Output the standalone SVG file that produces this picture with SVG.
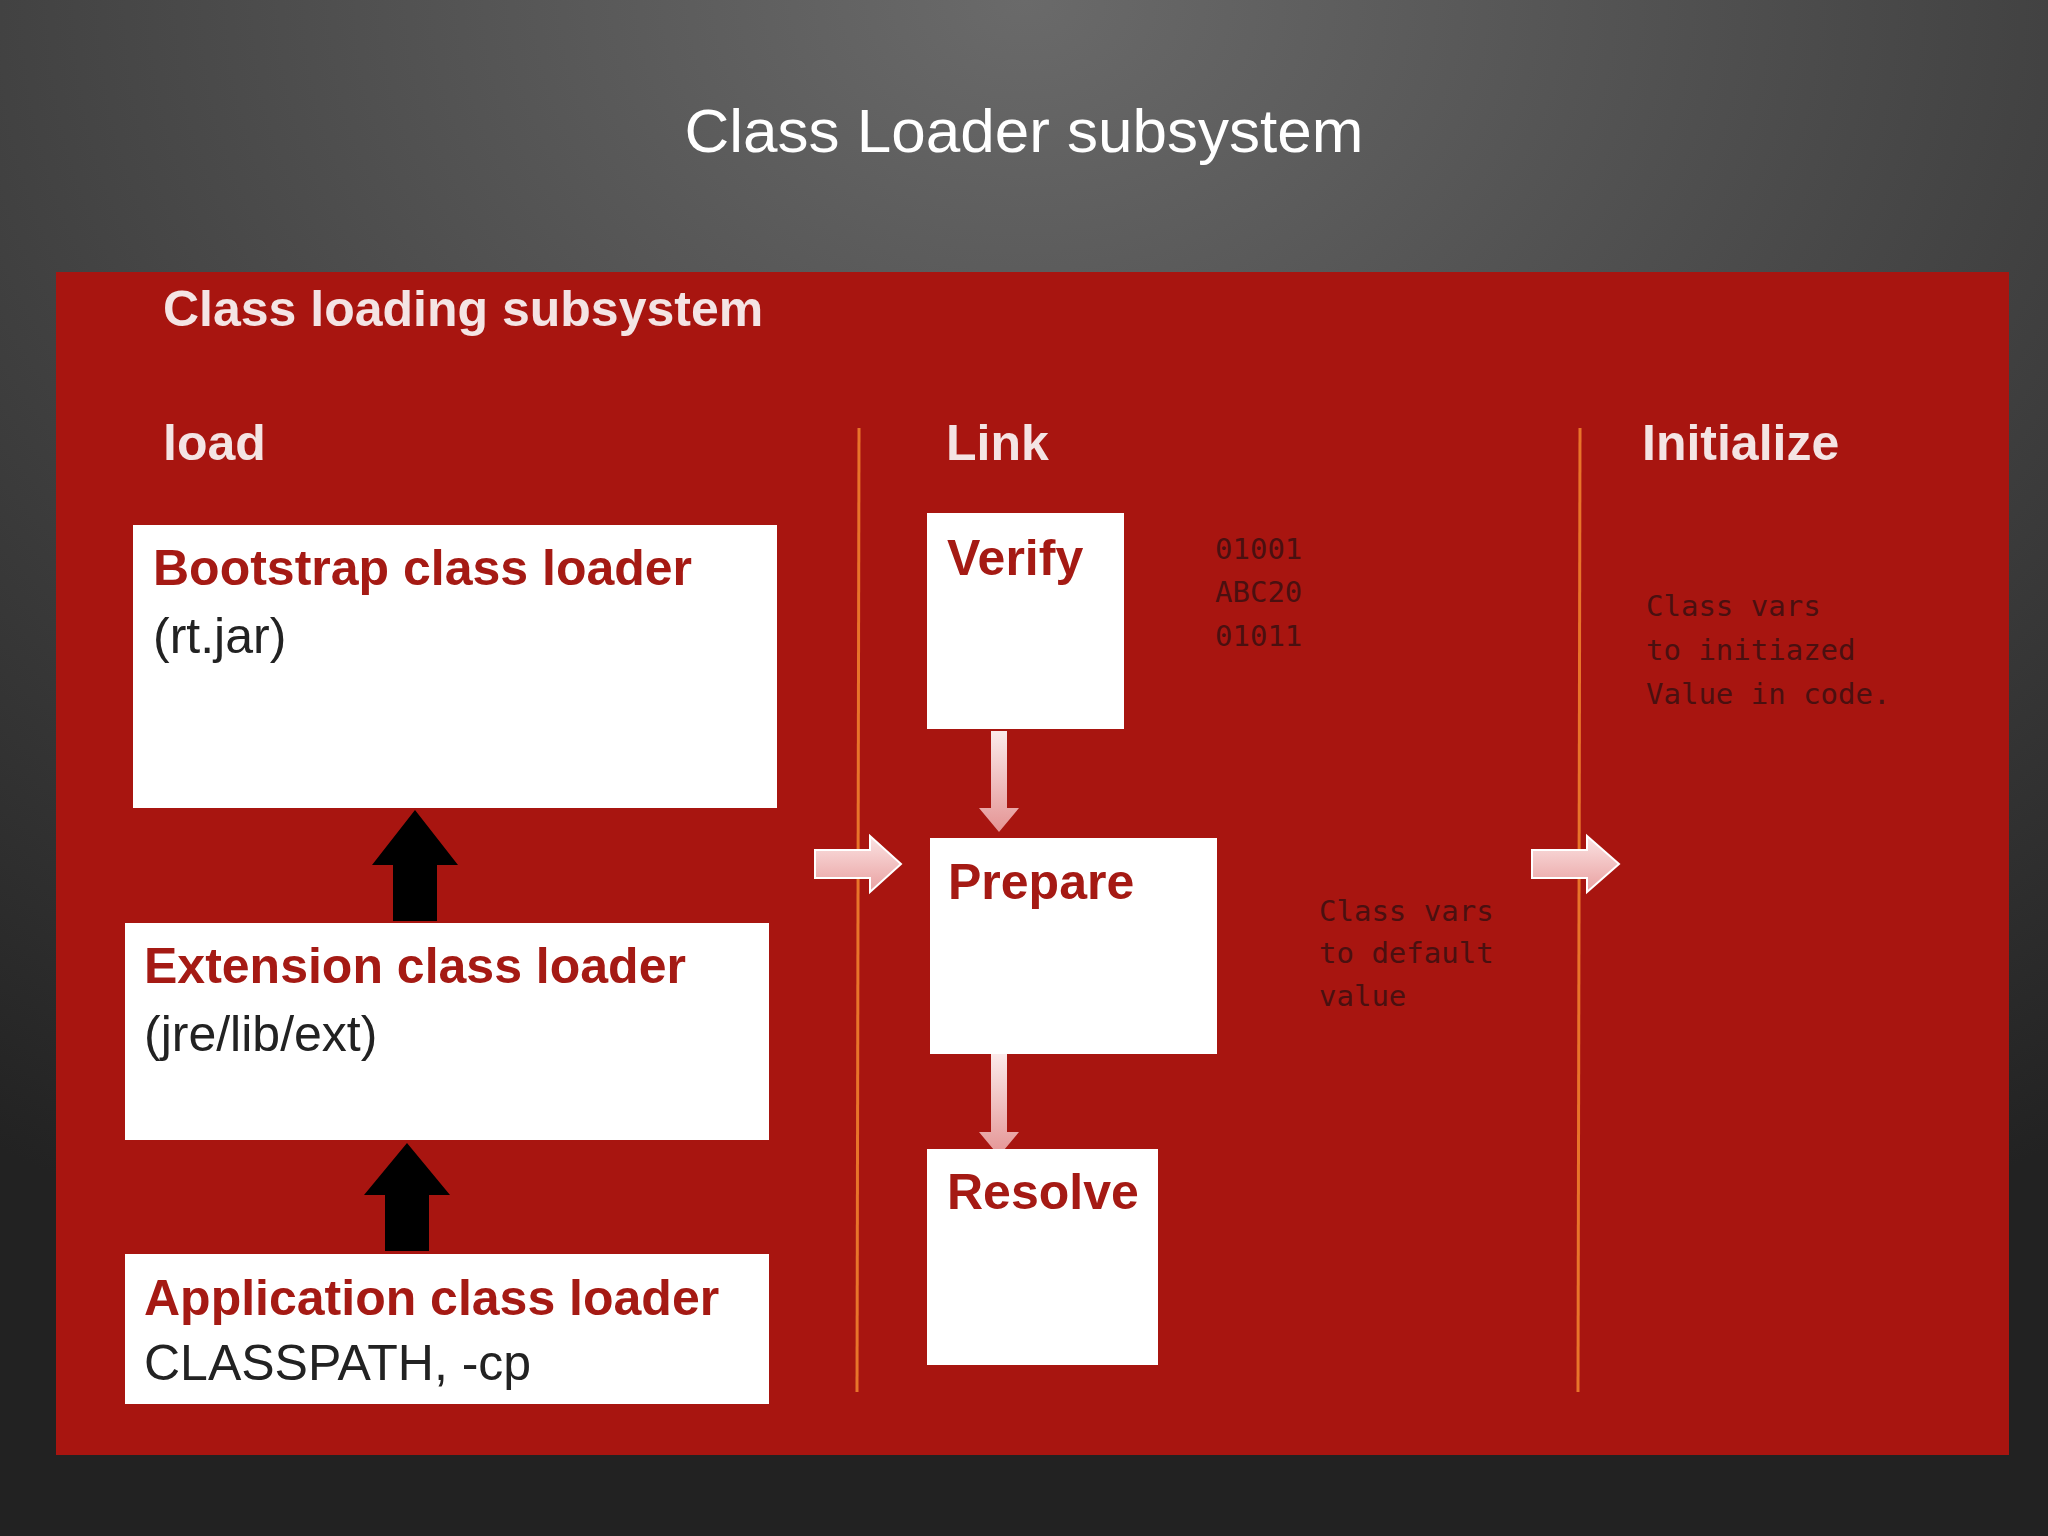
<svg xmlns="http://www.w3.org/2000/svg" width="2048" height="1536" viewBox="0 0 2048 1536">
<defs>
<radialGradient id="bg" cx="50%" cy="0%" r="90%">
<stop offset="0" stop-color="#6a6a6a"/><stop offset="1" stop-color="#222"/>
</radialGradient>
<linearGradient id="pk" x1="0" y1="0" x2="0" y2="1">
<stop offset="0" stop-color="#fbe3e3"/><stop offset="1" stop-color="#e9a0a0"/>
</linearGradient>
<linearGradient id="pkd" x1="0" y1="0" x2="0" y2="1">
<stop offset="0" stop-color="#fbeaea"/><stop offset="1" stop-color="#e49494"/>
</linearGradient>
</defs>
<style>
.box{fill:#fff}
.h{font-family:"Liberation Sans",Arial,sans-serif;font-weight:bold;fill:#a51a14;font-size:50px}
.s{font-family:"Liberation Sans",Arial,sans-serif;fill:#222;font-size:50px}
.w{font-family:"Liberation Sans",Arial,sans-serif;font-weight:bold;fill:#f4e4e4;font-size:50px}
.m{font-family:"DejaVu Sans Mono",monospace;fill:#4a1010;font-size:29px}
.vl{stroke:#e8742a;stroke-width:3}
</style>
<rect width="2048" height="1536" fill="url(#bg)"/>
<text x="1024" y="152" text-anchor="middle" font-family="Liberation Sans,Arial,sans-serif" font-size="62" fill="#fff">Class Loader subsystem</text>
<rect x="56" y="272" width="1953" height="1183" fill="#a81510"/>
<text class="w" x="163" y="326">Class loading subsystem</text>
<text class="w" x="163" y="460">load</text>
<text class="w" x="946" y="460">Link</text>
<text class="w" x="1642" y="460">Initialize</text>
<g id="connectors">
<line class="vl" x1="859" y1="428" x2="857" y2="1392"/>
<line class="vl" x1="1580" y1="428" x2="1578" y2="1392"/>
<polygon points="393,921 437,921 437,865 458,865 415,810 372,865 393,865" fill="#000"/>
<polygon points="385,1251 429,1251 429,1195 450,1195 407,1143 364,1195 385,1195" fill="#000"/>
<polygon points="815,850 870,850 870,836 901,864 870,892 870,878 815,878" fill="url(#pk)" stroke="#fff" stroke-width="2"/>
<polygon points="1532,850 1587,850 1587,836 1619,864 1587,892 1587,878 1532,878" fill="url(#pk)" stroke="#fff" stroke-width="2"/>
<polygon points="991,731 1007,731 1007,808 1019,808 999,832 979,808 991,808" fill="url(#pkd)"/>
<polygon points="991,1054 1007,1054 1007,1132 1019,1132 999,1156 979,1132 991,1132" fill="url(#pkd)"/>
</g>
<g id="bootstrap"><rect class="box" x="133" y="525" width="644" height="283"/>
<text class="h" x="153" y="585">Bootstrap class loader</text><text class="s" x="153" y="653">(rt.jar)</text></g>
<g id="extension"><rect class="box" x="125" y="923" width="644" height="217"/>
<text class="h" x="144" y="983">Extension class loader</text><text class="s" x="144" y="1051">(jre/lib/ext)</text></g>
<g id="application"><rect class="box" x="125" y="1254" width="644" height="150"/>
<text class="h" x="144" y="1315">Application class loader</text><text class="s" x="144" y="1380">CLASSPATH, -cp</text></g>
<g id="verify"><rect class="box" x="927" y="513" width="197" height="216"/><text class="h" x="947" y="575">Verify</text></g>
<g id="prepare"><rect class="box" x="930" y="838" width="287" height="216"/><text class="h" x="948" y="899">Prepare</text></g>
<g id="resolve"><rect class="box" x="927" y="1149" width="231" height="216"/><text class="h" x="947" y="1209">Resolve</text></g>
<g id="notes">
<text class="m" x="1215" y="559">01001</text><text class="m" x="1215" y="602">ABC20</text><text class="m" x="1215" y="646">01011</text>
<text class="m" x="1319" y="921">Class vars</text><text class="m" x="1319" y="963">to default</text><text class="m" x="1319" y="1006">value</text>
<text class="m" x="1646" y="616">Class vars</text><text class="m" x="1646" y="660">to initiazed</text><text class="m" x="1646" y="704">Value in code.</text>
</g>
</svg>
